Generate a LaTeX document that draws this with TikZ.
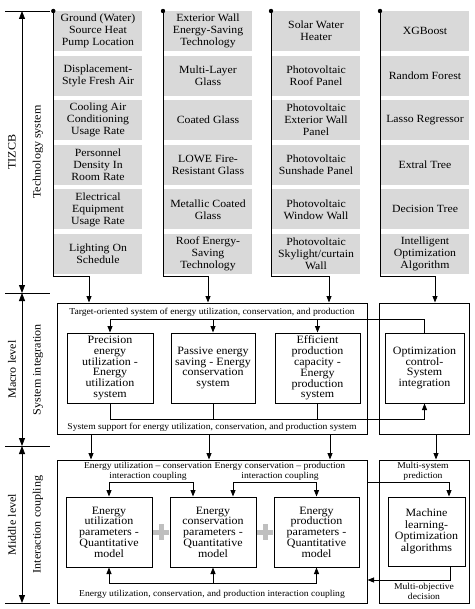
\documentclass[tikz,border=0pt]{standalone}
\usepackage{fontspec}
\setmainfont{Liberation Serif}[FakeStretch=1.07]
\usetikzlibrary{arrows.meta}
\begin{document}
\begin{tikzpicture}[x=1pt,y=-1pt,
  line width=0.8pt,
  ar/.style={-{Triangle[width=5pt,length=6.5pt]}},
  dar/.style={{Triangle[width=5pt,length=6.5pt]}-{Triangle[width=5pt,length=6.5pt]}},
  axar/.style={{Triangle[width=6pt,length=8pt]}-{Triangle[width=6pt,length=8pt]}},
  techbox/.style={fill=black!15, minimum width=88pt, minimum height=40pt, inner sep=0pt, align=center, font=\fontsize{11}{12}\selectfont},
  sysbox/.style={draw, line width=1pt, inner sep=0pt, align=center, font=\fontsize{11.2}{10.9}\selectfont},
  frame/.style={draw, line width=1pt, inner sep=0pt},
  small/.style={inner sep=0pt, align=center, font=\fontsize{9}{9.8}\selectfont},
  side/.style={rotate=90, inner sep=0pt, font=\fontsize{11.3}{13}\selectfont},
  plus/.style={line width=5pt, draw=black!25}
]
\useasboundingbox (0,0) rectangle (474,609);

% ---------- left axis ----------
\coordinate (y0) at (22,11);
\coordinate (y1) at (22,293);
\coordinate (y2) at (22,446);
\coordinate (y3) at (22,603);
\foreach \c in {y0,y1,y2,y3} \draw ([xshift=-17pt]\c) -- ([xshift=28pt]\c);
\draw[axar] (y0) -- (y1);
\draw[axar] (y1) -- (y2);
\draw[axar] (y2) -- (y3);
\node[side] (l1) at (12,152) {TIZCB};
\node[side] (l2) at (38,152) {Technology system};
\node[side] (l3) at (12,369.5) {Macro level};
\node[side] (l4) at (38,369.5) {System integration};
\node[side] (l5) at (12,524.5) {Middle level};
\node[side] (l6) at (38,524.5) {Interaction coupling};

% ---------- technology columns ----------
\node[techbox] (t11) at (98,31) {Ground (Water)\\Source Heat\\Pump Location};
\node[techbox] (t12) at (98,75.6) {Displacement-\\Style Fresh Air};
\node[techbox] (t13) at (98,120.2) {Cooling Air\\Conditioning\\Usage Rate};
\node[techbox] (t14) at (98,164.8) {Personnel\\Density In\\Room Rate};
\node[techbox] (t15) at (98,209.4) {Electrical\\Equipment\\Usage Rate};
\node[techbox] (t16) at (98,254) {Lighting On\\Schedule};

\node[techbox] (t21) at (208,31) {Exterior Wall\\Energy-Saving\\Technology};
\node[techbox] (t22) at (208,75.6) {Multi-Layer\\Glass};
\node[techbox] (t23) at (208,120.2) {Coated Glass};
\node[techbox] (t24) at (208,164.8) {LOWE Fire-\\Resistant Glass};
\node[techbox] (t25) at (208,209.4) {Metallic Coated\\Glass};
\node[techbox] (t26) at (208,254) {Roof Energy-\\Saving\\Technology};

\node[techbox] (t31) at (316,31) {Solar Water\\Heater};
\node[techbox] (t32) at (316,75.6) {Photovoltaic\\Roof Panel};
\node[techbox] (t33) at (316,120.2) {Photovoltaic\\Exterior Wall\\Panel};
\node[techbox] (t34) at (316,164.8) {Photovoltaic\\Sunshade Panel};
\node[techbox] (t35) at (316,209.4) {Photovoltaic\\Window Wall};
\node[techbox] (t36) at (316,254) {Photovoltaic\\Skylight/curtain\\Wall};

\node[techbox] (t41) at (425,31) {XGBoost};
\node[techbox] (t42) at (425,75.6) {Random Forest};
\node[techbox] (t43) at (425,120.2) {Lasso Regressor};
\node[techbox] (t44) at (425,164.8) {Extral Tree};
\node[techbox] (t45) at (425,209.4) {Decision Tree};
\node[techbox] (t46) at (425,254) {Intelligent\\Optimization\\Algorithm};

% ---------- macro level ----------
\node[frame, minimum width=310pt, minimum height=131pt] (macro) at (212,368.5) {};
\node[frame, minimum width=90pt, minimum height=131pt] (macroR) at (424,368.5) {};
\node[sysbox, minimum width=86pt, minimum height=70pt] (A) at (110,368) {Precision\\energy\\utilization -\\Energy\\utilization\\system};
\node[sysbox, minimum width=84pt, minimum height=70pt] (B) at (213,368) {Passive energy\\saving - Energy\\conservation\\system};
\node[sysbox, minimum width=85pt, minimum height=70pt] (C) at (317.5,368) {Efficient\\production\\capacity -\\Energy\\production\\system};
\node[sysbox, minimum width=79pt, minimum height=70pt] (Opt) at (424.5,368) {Optimization\\control-\\System\\integration};
\node[small] (tg) at (212,312) {Target-oriented system of energy utilization, conservation, and production};
\node[small] (sp) at (212,427) {System support for energy utilization, conservation, and production system};

% column spines
\foreach \n/\sx/\ax/\tgt in {1/53.3/89/macro, 2/163/208/macro, 3/271/329/macro, 4/380/435/macroR}{
  \coordinate (s\n) at (\sx,11);
  \coordinate (b\n) at (\sx,276);
  \coordinate (c\n) at (\ax,276);
  \fill (s\n) circle (2.2pt);
  \draw[ar] (s\n) -- (b\n) -- (c\n) -- (c\n |- \tgt.north);
}

% macro connectors
\coordinate (tl) at (110,319);
\coordinate (bl) at (110,419);
\draw (Opt.north) |- (A.north |- tl);
\draw[ar] (A.north |- tl) -- (A.north);
\draw[ar] (B.north |- tl) -- (B.north);
\draw[ar] (C.north |- tl) -- (C.north);
\draw (A.south) -- (A.south |- bl) -- (Opt.south |- bl);
\draw[ar] (Opt.south |- bl) -- (Opt.south);
\draw (B.south) -- (B.south |- bl);
\draw (C.south) -- (C.south |- bl);

% ---------- middle level ----------
\node[frame, minimum width=310pt, minimum height=143pt] (mid) at (212,531.5) {};
\node[frame, minimum width=90pt, minimum height=143pt] (midR) at (424,531.5) {};
\node[sysbox, minimum width=86pt, minimum height=70pt, font=\fontsize{11.2}{10.7}\selectfont] (P1) at (109,532) {Energy\\utilization\\parameters -\\Quantitative\\model};
\node[sysbox, minimum width=86pt, minimum height=70pt, font=\fontsize{11.2}{10.7}\selectfont] (P2) at (213,532) {Energy\\conservation\\parameters -\\Quantitative\\model};
\node[sysbox, minimum width=85pt, minimum height=70pt, font=\fontsize{11.2}{10.7}\selectfont] (P3) at (316.5,532) {Energy\\production\\parameters -\\Quantitative\\model};
\node[sysbox, minimum width=77pt, minimum height=69pt, font=\fontsize{11.2}{11.5}\selectfont] (ML) at (426.5,531.5) {Machine\\learning-\\Optimization\\algorithms};

\node[small] (c1) at (148,471) {Energy utilization -- conservation\\interaction coupling};
\node[small] (c2) at (280,471) {Energy conservation -- production\\interaction coupling};
\node[small] (c3) at (212,594) {Energy utilization, conservation, and production interaction coupling};
\node[small] (c4) at (423,471) {Multi-system\\prediction};
\node[small] (c5) at (424,591.5) {Multi-objective\\decision};

% plus signs
\draw[plus] (153,532) -- (169,532);
\draw[plus] (161,524) -- (161,540);
\draw[plus] (257,532) -- (273,532);
\draw[plus] (265,524) -- (265,540);

% macro -> middle
\foreach \ax/\s/\t in {91/macro/mid, 209/macro/mid, 330/macro/mid, 436/macroR/midR}{
  \coordinate (d\ax) at (\ax,440);
  \draw[ar] (d\ax |- \s.south) -- (d\ax |- \t.north);
}

% middle connectors
\coordinate (k1) at (193,482);
\coordinate (k2) at (233,482);
\coordinate (k4) at (449,482);
\coordinate (k5) at (450,580);
\coordinate (k6) at (110,583);
\draw[dar] (P1.north) |- (k1) -- (k1 |- P2.north);
\draw[dar] (k2 |- P2.north) -- (k2) -| (P3.north);
\draw[ar] (mid.east |- k4) -- (k4) -- (k4 |- ML.north);
\draw[ar] (k5 |- ML.south) -- (k5) -- (k5 -| mid.east);
\draw[ar] (P3.south |- k6) -| (P1.south);
\draw[ar] (P3.south |- k6) -- (P3.south);
\draw[ar] (P2.south |- k6) -- (P2.south);
\end{tikzpicture}
\end{document}
